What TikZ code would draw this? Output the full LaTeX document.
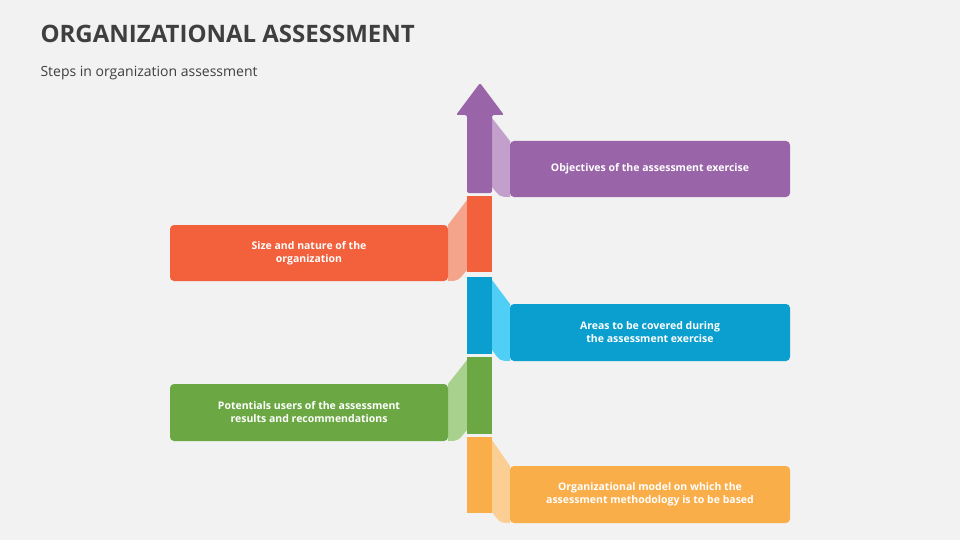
\documentclass[tikz,border=0pt]{standalone}
\usepackage{fontspec}
\setmainfont{Open Sans}
\begin{document}
\begin{tikzpicture}[x=1pt,y=-1pt,
 box/.style={rounded corners=4pt,text=white,font=\bfseries\fontsize{10.5}{13}\selectfont,align=center,inner sep=0pt},
 seg/.style={}]
\definecolor{bg}{HTML}{F2F2F2}
\definecolor{pu}{HTML}{9A64A9}\definecolor{lpu}{HTML}{C3A0CC}
\definecolor{or}{HTML}{F2603C}\definecolor{lor}{HTML}{F5A48C}
\definecolor{bl}{HTML}{0A9FCF}\definecolor{lbl}{HTML}{4FCFF5}
\definecolor{gr}{HTML}{6BA843}\definecolor{lgr}{HTML}{A9D18E}
\definecolor{ye}{HTML}{F9AE4A}\definecolor{lye}{HTML}{FBCF94}
\definecolor{tt}{HTML}{3F3F3F}
\fill[bg] (0,0) rectangle (960,540);
\useasboundingbox (0,0) rectangle (960,540);
\node[anchor=west,text=tt,font=\bfseries\fontsize{24}{28}\selectfont] (title) at (37,34) {ORGANIZATIONAL ASSESSMENT};
\node[anchor=west,text=tt,font=\fontsize{14}{17}\selectfont] (sub) at (37,73) {Steps in organization assessment};
% folds
\fill[lpu] (492,118) -- (510,141) -- (510,197) .. controls (500,197) .. (492,187) -- cycle;
\fill[lor] (467,200) -- (448,225) -- (448,281) .. controls (458,281) .. (467,270) -- cycle;
\fill[lbl] (492,280) -- (510,304) -- (510,361) .. controls (500,361) .. (492,350) -- cycle;
\fill[lgr] (467,360) -- (448,384) -- (448,441) .. controls (458,441) .. (467,430) -- cycle;
\fill[lye] (492,440) -- (510,466) -- (510,523) .. controls (500,523) .. (492,512) -- cycle;
% bar
\fill[pu,rounded corners=2pt] (467,193) -- (467,115) -- (456,115) -- (480,83) -- (504,115) -- (492,115) -- (492,193) -- cycle;
\fill[or] (467,196) rectangle (492,272);
\fill[bl] (467,277) rectangle (492,354);
\fill[gr] (467,357) rectangle (492,434);
\fill[ye] (467,437) rectangle (492,513);
% boxes
\node[box,fill=pu,minimum width=280pt,minimum height=56pt] (b1) at (650,169) {Objectives of the assessment exercise};
\node[box,fill=or,minimum width=278pt,minimum height=56pt] (b2) at (309,253) {Size and nature of the\\organization};
\node[box,fill=bl,minimum width=280pt,minimum height=57pt] (b3) at (650,332.5) {Areas to be covered during\\the assessment exercise};
\node[box,fill=gr,minimum width=278pt,minimum height=57pt] (b4) at (309,412.5) {Potentials users of the assessment\\results and recommendations};
\node[box,fill=ye,minimum width=280pt,minimum height=57pt] (b5) at (650,494.5) {Organizational model on which the\\assessment methodology is to be based};
\end{tikzpicture}
\end{document}
